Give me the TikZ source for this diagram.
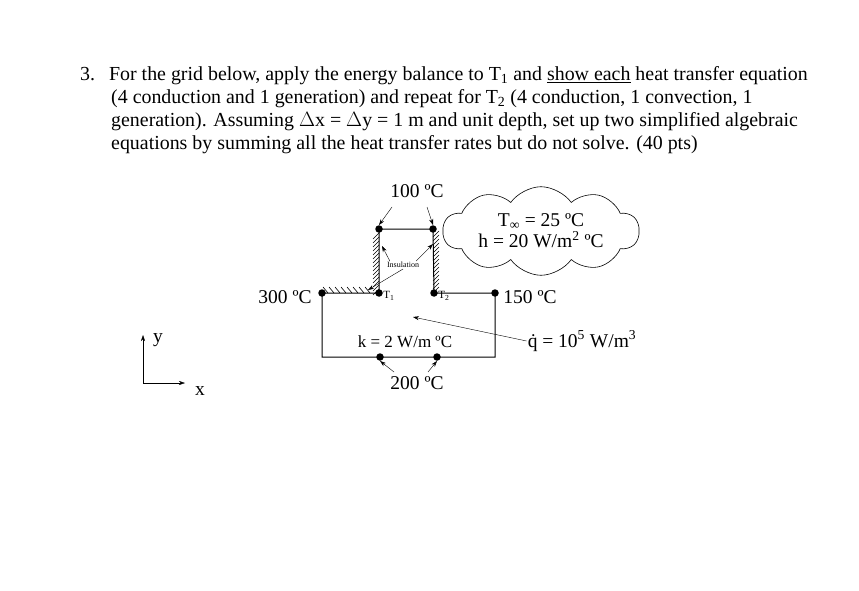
\documentclass[tikz,border=0pt]{standalone}
\usepackage{fontspec}
\setmainfont{Liberation Serif}
\usetikzlibrary{shapes.symbols,patterns,arrows.meta}
\begin{document}
\begin{tikzpicture}[x=1pt,y=-1pt,
  dot/.style={circle,fill=black,inner sep=0pt,minimum size=7.5pt},
  lbl/.style={font=\fontsize{19.5}{22}\selectfont,inner sep=1pt},
  thin arrow/.style={-{Stealth[length=6pt,width=4pt]},line width=0.4pt},
  hatch/.style={line width=0.6pt}]
\useasboundingbox (0,0) rectangle (859,591);
\node[anchor=north west,align=left,font=\fontsize{19.9}{23}\selectfont,inner sep=0pt] (txt) at (80,66)
{3.\hspace{14pt}For the grid below, apply the energy balance to T\textsubscript{1} and \underline{show each} heat transfer equation\\
\hspace{31pt}(4 conduction and 1 generation) and repeat for T\textsubscript{2} (4 conduction, 1 convection, 1\\
\hspace{31pt}generation).  Assuming $\Delta$x = $\Delta$y = 1 m and unit depth, set up two simplified algebraic\\
\hspace{31pt}equations by summing all the heat transfer rates but do not solve.  (40 pts)};
% nodes
\node[dot] (tl) at (379,229) {};
\node[dot] (tr) at (433,229) {};
\node[dot] (t1) at (379,293) {};
\node[dot] (t2) at (434,293) {};
\node[dot] (l) at (322,293) {};
\node[dot] (r) at (495,293) {};
\node[dot] (b1) at (380,357) {};
\node[dot] (b2) at (437,357) {};
\coordinate (bl) at (322,357);
\coordinate (br) at (495,357);
\draw[line width=1pt] (tl.center) -- (tr.center) -- (t2.center) -- (r.center) -- (br) -- (bl) -- (l.center) -- (t1.center) -- (tl.center);
% hatching
\foreach \y in {233,237,...,289} \draw[hatch] (379,\y) -- (373,\y+6);
\foreach \y in {231,235,...,287} \draw[hatch] (433,\y+6) -- (439,\y);
\foreach \x in {328,334,...,374} \draw[hatch] (\x,293) -- (\x-5,287);
% labels
\node[lbl] (t100) at (417,191) {100 ºC};
\node[lbl] (t300) at (285,297) {300 ºC};
\node[lbl] (t150) at (530,297) {150 ºC};
\node[lbl] (t200) at (417,383) {200 ºC};
\node[lbl,font=\fontsize{17}{19}\selectfont] (k) at (405,342) {k = 2 W/m ºC};
\node[lbl] (q) at (582,341) {q̇ = 10\textsuperscript{5} W/m\textsuperscript{3}};
\node[font=\fontsize{8}{9}\selectfont,inner sep=1pt] (ins) at (403,265) {Insulation};
\node[font=\fontsize{11}{12}\selectfont,inner sep=0pt] (T1) at (389,296) {T\textsubscript{1}};
\node[font=\fontsize{11}{12}\selectfont,inner sep=0pt] (T2) at (444,296) {T\textsubscript{2}};
\node[cloud,draw,line width=0.6pt,cloud puffs=10,cloud puff arc=110,aspect=2.8,minimum width=196pt,minimum height=74pt,align=center,font=\fontsize{19.5}{24}\selectfont,inner sep=0pt] (cl) at (541,231) {T\textsubscript{∞} = 25 ºC\\[-3pt]h = 20 W/m\textsuperscript{2} ºC};
% arrows
\coordinate (a1) at (392,207); \coordinate (a2) at (427,207);
\coordinate (a3) at (394,372); \coordinate (a4) at (428,372);
\draw[thin arrow] (a1) -- (tl.north);
\draw[thin arrow] (a2) -- (tr.north);
\draw[thin arrow] (a3) -- (b1.south);
\draw[thin arrow] (a4) -- (b2.south);
\draw[thin arrow] (ins.north west) ++(4,0) -- (382,246);
\draw[thin arrow] (ins.north east) ++(-4,0) -- (433,244);
\draw[thin arrow] (ins.south) -- (368,290);
\coordinate (qt) at (413,317);
\draw[thin arrow] (q.west) -- (qt);
% axes
\node[inner sep=0pt] (o) at (143,383) {};
\coordinate (ya) at (143,335);
\coordinate (xa) at (185,383);
\draw[thin arrow] (o.center) -- (ya);
\draw[thin arrow] (o.center) -- (xa);
\node[lbl] (yl) at (158,340) {y};
\node[lbl] (xl) at (200,391) {x};
\end{tikzpicture}
\end{document}
